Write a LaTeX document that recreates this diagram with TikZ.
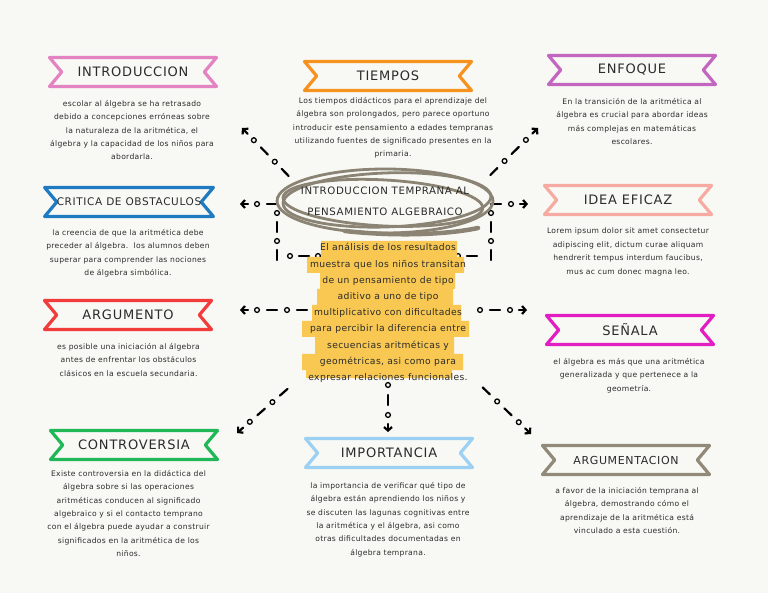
\documentclass[tikz,border=0pt]{standalone}
\usepackage{fontspec}
\setmainfont{DejaVu Sans}
\newfontfamily\bannerfont[LetterSpace=6]{DejaVu Sans}
\newfontfamily\bodyfont[LetterSpace=4]{DejaVu Sans}
\usetikzlibrary{shapes.symbols,shapes.geometric,decorations.markings,arrows.meta,backgrounds}

\definecolor{paper}{HTML}{F8F8F4}
\definecolor{ink}{HTML}{2B2B2B}
\definecolor{pinkB}{HTML}{E383C1}
\definecolor{blueB}{HTML}{1F7BC1}
\definecolor{redB}{HTML}{F23B3B}
\definecolor{greenB}{HTML}{20B857}
\definecolor{orangeB}{HTML}{F7921E}
\definecolor{skyB}{HTML}{9DD1F3}
\definecolor{orchidB}{HTML}{C266C0}
\definecolor{salmonB}{HTML}{F6AAA2}
\definecolor{magentaB}{HTML}{E21EC3}
\definecolor{taupeB}{HTML}{928A79}
\definecolor{scribble}{HTML}{8B8474}
\definecolor{marker}{HTML}{F8C852}

\begin{document}
\begin{tikzpicture}[x=1pt, y=-1pt,
        banner/.style={signal, signal to=nowhere, signal from=west and east, signal pointer angle=100,
            draw=#1, line width=3.2pt, line join=round, fill=paper, minimum width=167pt, minimum height=29pt,
            inner sep=0pt, text=ink, font=\bannerfont\fontsize{13}{15}\selectfont},
        body/.style={anchor=north, align=center, inner sep=0pt, text=ink, font=\bodyfont\fontsize{7.6}{13.4}\selectfont},
        loopline/.style={draw=scribble, line width=2.8pt},
        dashpen/.style={line width=2.2pt, line cap=round},
        ring/.style={line width=1.3pt, fill=paper},
        link/.style={postaction={decorate}, decoration={markings,
            mark=at position 0pt with {\draw[dashpen, -{Straight Barb[length=3.5pt,width=8pt]}] (8pt,0pt) -- (0pt,0pt);},
            mark=between positions 17pt and 1 step 30pt with {\draw[ring] (0pt,0pt) circle (2.4pt);},
            mark=between positions 32pt and 1 step 30pt with {\draw[dashpen] (-5pt,0pt) -- (5pt,0pt);}}},
        dotline/.style={postaction={decorate}, decoration={markings,
            mark=between positions 0pt and 1 step 28pt with {\draw[ring] (0pt,0pt) circle (2.4pt);},
            mark=between positions 14pt and 1 step 28pt with {\draw[dashpen] (-5pt,0pt) -- (5pt,0pt);}}}
    ]
        \useasboundingbox (0,0) rectangle (768,593);

        % Cintas de titulo
        \node[banner=pinkB] (intro) at (133,72) {INTRODUCCION};
        \node[banner=blueB, font=\bannerfont\fontsize{10.5}{12}\selectfont] (critica) at (129,202) {CRITICA DE OBSTACULOS};
        \node[banner=redB] (argumento) at (128,315) {ARGUMENTO};
        \node[banner=greenB] (controversia) at (134,445) {CONTROVERSIA};
        \node[banner=orangeB] (tiempos) at (388,76) {TIEMPOS};
        \node[banner=skyB] (importancia) at (389,453) {IMPORTANCIA};
        \node[banner=orchidB] (enfoque) at (632,70) {ENFOQUE};
        \node[banner=salmonB] (idea) at (628,200) {IDEA EFICAZ};
        \node[banner=magentaB] (senala) at (630,330) {SEÑALA};
        \node[banner=taupeB, font=\bannerfont\fontsize{11}{13}\selectfont] (argumentacion) at (626,460) {ARGUMENTACION};

        % Textos
        \node[body] (introT) at (132,100) {escolar al álgebra se ha retrasado\\debido a concepciones erróneas sobre\\la naturaleza de la aritmética, el\\álgebra y la capacidad de los niños para\\abordarla.};
        \node[body] (criticaT) at (128,229) {la creencia de que la aritmética debe\\preceder al álgebra.\ \ los alumnos deben\\superar para comprender las nociones\\de álgebra simbólica.};
        \node[body] (argumentoT) at (128.5,343) {es posible una iniciación al álgebra\\antes de enfrentar los obstáculos\\clásicos en la escuela secundaria.};
        \node[body] (controversiaT) at (128.5,470) {Existe controversia en la didáctica del\\álgebra sobre si las operaciones\\aritméticas conducen al significado\\algebraico y si el contacto temprano\\con el álgebra puede ayudar a construir\\significados en la aritmética de los\\niños.};
        \node[body] (tiemposT) at (393,97) {Los tiempos didácticos para el aprendizaje del\\álgebra son prolongados, pero parece oportuno\\introducir este pensamiento a edades tempranas\\utilizando fuentes de significado presentes en la\\primaria.};
        \node[body] (importanciaT) at (388,482) {la importancia de verificar qué tipo de\\álgebra están aprendiendo los niños y\\se discuten las lagunas cognitivas entre\\la aritmética y el álgebra, asi como\\otras dificultades documentadas en\\álgebra temprana.};
        \node[body] (enfoqueT) at (632,98) {En la transición de la aritmética al\\álgebra es crucial para abordar ideas\\más complejas en matemáticas\\escolares.};
        \node[body] (ideaT) at (628,228) {Lorem ipsum dolor sit amet consectetur\\adipiscing elit, dictum curae aliquam\\hendrerit tempus interdum faucibus,\\mus ac cum donec magna leo.};
        \node[body] (senalaT) at (629,358) {el álgebra es más que una aritmética\\generalizada y que pertenece a la\\geometría.};
        \node[body] (argumentacionT) at (627,487) {a favor de la iniciación temprana al\\álgebra, demostrando cómo el\\aprendizaje de la aritmética está\\vinculado a esta cuestión.};

        % Idea central
        \node[ellipse, loopline, minimum width=216pt, minimum height=64pt, inner sep=0pt] (centro) at (385,201) {};
        \draw[loopline, rotate around={-3:(centro.center)}] (383,203) ellipse [x radius=100, y radius=23];
        \draw[loopline, rotate around={2:(centro.center)}] (387,200) ellipse [x radius=104, y radius=27];
        \draw[loopline, line width=4.5pt, line cap=round] (345,231) .. controls (400,237) and (450,234) .. (478,228);
        \node[align=center, inner sep=0pt, text=ink, font=\bannerfont\fontsize{10.2}{21}\selectfont] (centroT) at (centro)
            {INTRODUCCION TEMPRANA AL\\PENSAMIENTO ALGEBRAICO};
        \node[align=center, inner sep=0pt, text=ink, font=\bodyfont\fontsize{9.2}{16.2}\selectfont] (analisis) at (388,313)
            {El análisis de los resultados\\muestra que los niños transitan\\de un pensamiento de tipo\\aditivo a uno de tipo\\multiplicativo con dificultades\\para percibir la diferencia entre\\secuencias aritméticas y\\geométricas, asi como para\\expresar relaciones funcionales.};

        % Puntas de los conectores
        \coordinate (pUL) at (242,128);
        \coordinate (pL1) at (240,204);
        \coordinate (pL2) at (240,310);
        \coordinate (pLL) at (237,433);
        \coordinate (pD) at (388,432);
        \coordinate (pLR) at (531,434);
        \coordinate (pR2) at (527,310);
        \coordinate (pR1) at (528,204);
        \coordinate (pUR) at (538,128);

        \begin{scope}[on background layer]
            \fill[paper] (0,0) rectangle (768,593);
            % Marco punteado bajo la elipse
            \path[dotline] (277,213) -- (277,256);
            \path[dotline] (290,256) -- (480,256);
            \path[dotline] (491,213) -- (491,256);
            % Conectores
            \path[link] (pUL) -- ([shift={(15,-23)}]centro.west);
            \path[link] (pL1) -- ([shift={(0,3)}]centro.west);
            \path[link] (pL2) -- ([shift={(0,-3)}]analisis.west);
            \path[link] (pLL) -- ([shift={(-18,4)}]analisis.south west);
            \path[link] (pD) -- (analisis.south);
            \path[link] (pLR) -- ([shift={(14,4)}]analisis.south east);
            \path[link] (pR2) -- ([shift={(0,-3)}]analisis.east);
            \path[link] (pR1) -- ([shift={(0,3)}]centro.east);
            \path[link] (pUR) -- ([shift={(-1,-29)}]centro.east);
            % Resaltado amarillo
            \fill[marker] (321,241) rectangle (457,257)
                (307,257) rectangle (464,273)
                (320,273) rectangle (455,289)
                (317,289) rectangle (453,305)
                (312,305) rectangle (461,321)
                (302,321) rectangle (469,337)
                (315,337) rectangle (454,354)
                (302,354) rectangle (463,370)
                (306,370) rectangle (452,378);
        \end{scope}
    \end{tikzpicture}
\end{document}
